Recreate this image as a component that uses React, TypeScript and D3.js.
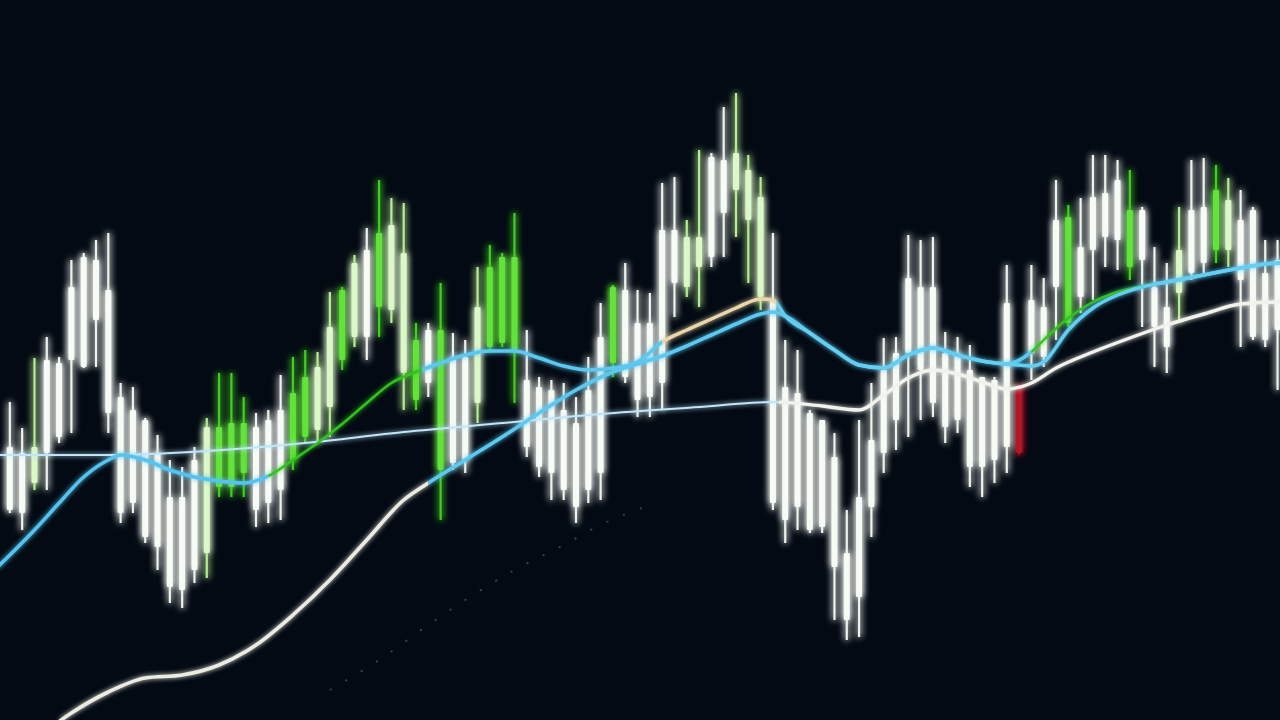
import React from "react";
import * as d3 from "d3";

// Candles (price units; higher = up)
const highs = [318,292,362,383,363,460,467,480,487,337,333,302,285,260,253,273,302,347,347,323,307,310,345,363,370,368,428,433,465,492,540,522,517,397,397,437,387,380,453,475,467,507,390,343,340,337,323,363,417,435,457,430,427,537,543,500,570,567,613,627,565,543,487,380,370,310,300,287,210,300,337,382,383,485,480,483,388,383,375,343,343,455,335,455,442,540,515,522,565,565,560,550,513,473,457,513,560,562,555,542,530,513,480,480];
const lows = [207,190,230,230,277,287,352,353,287,197,207,177,150,117,112,137,142,223,223,223,193,197,200,250,277,277,283,350,373,360,383,397,310,310,323,200,250,247,297,370,373,317,263,243,220,220,197,217,220,343,337,303,303,310,403,423,413,453,463,483,437,410,210,177,190,187,187,100,80,83,183,247,270,283,300,303,277,287,233,223,237,247,265,340,353,380,393,407,420,453,450,440,393,353,347,397,440,447,457,453,373,380,373,330];
const opens = [210,207,237,267,283,360,353,400,307,207,217,183,173,133,130,150,167,233,233,247,210,217,230,260,283,290,313,360,383,383,413,410,347,320,337,250,257,260,317,373,377,370,273,253,247,230,213,230,247,357,343,320,323,337,437,433,453,463,507,530,500,423,217,200,213,190,193,153,100,123,213,267,300,367,350,317,293,300,253,253,260,273,335,367,363,433,397,423,470,483,480,453,460,393,373,427,447,457,470,470,440,383,380,390];
const closes = [273,267,273,360,357,433,463,460,430,323,310,300,267,223,223,260,293,293,297,297,293,300,310,327,343,353,393,430,457,470,487,495,467,380,390,390,363,363,413,453,463,463,340,333,330,310,297,330,383,433,430,397,397,490,490,483,483,563,560,567,550,523,420,333,327,307,300,263,167,223,280,350,367,442,433,433,367,367,350,343,340,417,267,420,413,500,503,473,523,527,540,510,510,433,413,470,510,513,530,520,500,510,447,460];
// w = white, lg = pale green, g = green, r = red
const tones = ["w","w","lg","w","w","w","w","w","w","w","w","w","w","w","w","w","lg","g","g","g","w","w","w","g","g","lg","lg","g","lg","w","g","lg","lg","g","w","g","w","w","lg","g","g","g","w","w","w","w","w","w","w","g","w","w","w","w","w","lg","lg","w","w","lg","lg","lg","w","w","w","w","w","w","w","w","w","w","w","w","w","w","w","w","w","w","w","w","r","w","w","w","g","w","w","w","w","g","w","w","w","lg","w","w","g","lg","w","w","w","w"];

// Moving averages (knots: candle index, value)
const maFastIdx = [-1,0,2,4,6,8,9,11,13,15,17,19,21,23,25,27,29,31,33,35,37,39,41,43,45,47,49,51,53,55,57,59,61,62,63,65,67,69,71,73,75,77,79,81,83,84,86,88,90,92,94,97,100,103,104];
const maFastVal = [153,165,190,217,243,260,265,260,250,243,239,237,244,260,277,296,317,337,348,357,365,369,369,362,354,350,352,358,378,390,401,412,421,420,404,387,370,355,352,365,372,365,359,356,354,358,390,412,425,433,438,445,452,457,457];
const maMidIdx = [2,5,8,11,14,17,20,23,26,29,32,34,37,40,43,46,49,51,53,55,57,59,61,62,63,65,67,69,71,73,75,77,79,81,83,84,86,88,90,92,94,97,100,103,104];
const maMidVal = [-20,7,28,42,45,55,75,105,140,180,220,237,260,283,307,330,348,356,364,374,385,396,406,408,404,387,370,355,352,365,372,365,359,356,368,380,402,418,428,434,438,445,452,457,457];
const maSlowIdx = [-1,0,8,16,24,32,40,48,56,62,66,69,71,73,75,77,79,81,83,85,88,91,94,97,100,103,104];
const maSlowVal = [265,265,265,269,277,288,297,306,313,318,314,310,325,342,350,346,338,331,337,352,368,382,395,406,416,418,417];
// faint projection
const projIdx = [26,30,34,37,41,45,48,52];
const projVal = [30,60,95,120,150,175,195,215];

// colour segments [from, to, colour]
const fastSegs: [number, number, string][] = [[-2,21,"#55c3ef"],[21,33.5,"#2fc41c"],[33.5,53,"#5cc8f0"],[53,62.3,"#e9d6ab"],[62.3,105,"#63cdf2"]];
const midSegs: [number, number, string][] = [[-2,34,"#ecebe2"],[34,83,"#5cc8f0"],[83,93,"#33c31d"],[93,105,"#63cdf2"]];
const slowSegs: [number, number, string][] = [[-2,62.5,"#bfe5fb"],[62.5,105,"#f1f2ec"]];

const toneColors: Record<string, { body: string; wick: string }> = {
  w: { body: "#f7fbf5", wick: "#eef3ec" },
  lg: { body: "#dcf7c8", wick: "#b9ec96" },
  g: { body: "#62e23a", wick: "#45cc25" },
  r: { body: "#b31226", wick: "#a10f22" },
};

export default function App() {
  const W = 1280, H = 720;
  const N = highs.length;
  const x = d3.scaleLinear().domain([-0.8, N - 0.8]).range([0, W]);
  const y = d3.scaleLinear().domain([0, 720]).range([H, 0]);
  const mk = (idx: number[], val: number[]) =>
    d3.line<number>().x((_, i) => x(idx[i])).y((v) => y(v)).curve(d3.curveMonotoneX)(val) || "";
  const fastPath = mk(maFastIdx, maFastVal);
  const midPath = mk(maMidIdx, maMidVal);
  const slowPath = mk(maSlowIdx, maSlowVal);
  const projPath = mk(projIdx, projVal);

  const clip = (prefix: string, segs: [number, number, string][]) =>
    segs.map((s, k) => (
      <clipPath id={`${prefix}${k}`} key={`${prefix}${k}`}>
        <rect x={x(s[0])} y={0} width={x(s[1]) - x(s[0])} height={H} />
      </clipPath>
    ));
  const drawSegs = (prefix: string, path: string, segs: [number, number, string][], width: (k: number) => number) =>
    segs.map((s, k) => (
      <path key={`${prefix}p${k}`} d={path} fill="none" stroke={s[2]}
        strokeWidth={width(k)} strokeLinecap="round" clipPath={`url(#${prefix}${k})`} />
    ));

  const bodyW = 6;
  return (
    <div style={{ position: "fixed", left: 0, top: 0, width: W, height: H, background: "#030a13" }}>
      <svg width={W} height={H} style={{ display: "block" }}>
        <defs>
          <filter id="glow" x="-50%" y="-20%" width="200%" height="140%">
            <feGaussianBlur stdDeviation="3.5" result="b" />
            <feMerge>
              <feMergeNode in="b" />
              <feMergeNode in="b" />
              <feMergeNode in="SourceGraphic" />
            </feMerge>
          </filter>
          <filter id="lglow" x="-10%" y="-50%" width="120%" height="200%">
            <feGaussianBlur stdDeviation="2.5" result="b" />
            <feMerge>
              <feMergeNode in="b" />
              <feMergeNode in="SourceGraphic" />
            </feMerge>
          </filter>
          {clip("cf", fastSegs)}
          {clip("cm", midSegs)}
          {clip("cs", slowSegs)}
        </defs>
        <rect width={W} height={H} fill="#030a13" />
        <path d={projPath} fill="none" stroke="#9fb3b8" strokeOpacity={0.35} strokeWidth={2} strokeDasharray="2 16" />
        <g filter="url(#glow)">
          {highs.map((h, i) => {
            const c = toneColors[tones[i]];
            const top = Math.max(opens[i], closes[i]);
            const bot = Math.min(opens[i], closes[i]);
            return (
              <g key={i}>
                <line x1={x(i)} x2={x(i)} y1={y(h)} y2={y(lows[i])} stroke={c.wick} strokeWidth={2.2} />
                <rect x={x(i) - bodyW / 2} y={y(top)} width={bodyW} height={Math.max(1, y(bot) - y(top))} fill={c.body} rx={1.2} />
              </g>
            );
          })}
        </g>
        <g filter="url(#lglow)">
          {drawSegs("cs", slowPath, slowSegs, (k) => (k === 0 ? 2 : 3.4))}
          {drawSegs("cm", midPath, midSegs, (k) => (k === 2 ? 2.4 : 3.6))}
          {drawSegs("cf", fastPath, fastSegs, (k) => (k === 1 ? 2.6 : 3.5))}
        </g>
      </svg>
    </div>
  );
}
